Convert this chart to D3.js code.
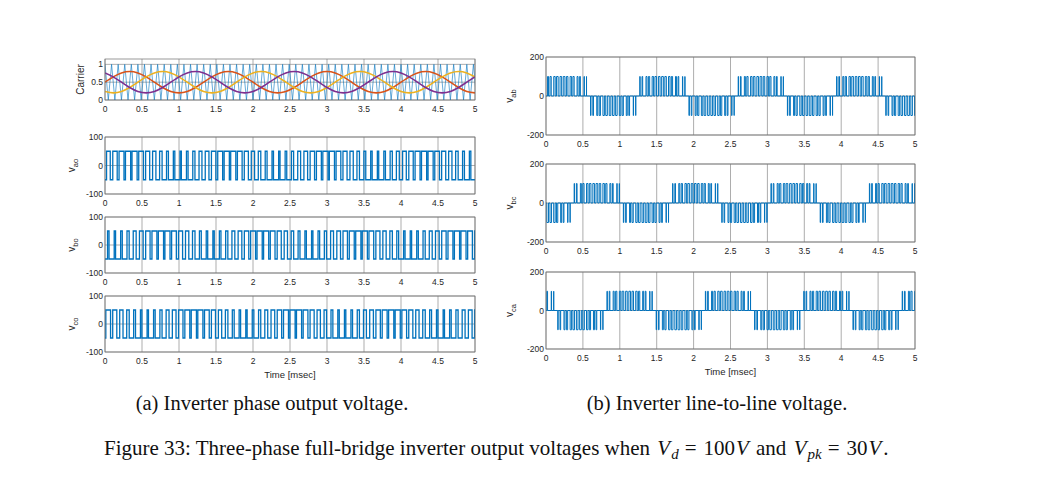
<!DOCTYPE html>
<html>
<head>
<meta charset="utf-8">
<script src="https://cdn.jsdelivr.net/npm/d3@7"></script>
<style>
  body { margin: 0; background: #fff; }
  text { font-family: "Liberation Sans", Arial, sans-serif; }
  .cap { font-family: "Liberation Serif", "Times New Roman", serif; }
</style>
</head>
<body>
<svg id="fig" width="1040" height="494"></svg>
<script>
// ---- data ----
var timeTicks = [0, 0.5, 1, 1.5, 2, 2.5, 3, 3.5, 4, 4.5, 5];
var timeTickLabels = ["0", "0.5", "1", "1.5", "2", "2.5", "3", "3.5", "4", "4.5", "5"];
var carrierTicks = [0, 0.5, 1];
var phaseTicks = [-100, 0, 100];
var lineTicks = [-200, 0, 200];

// reference (modulating) signals, sampled every 1/9 ms (30 deg)
var refTimes = [0, 0.111, 0.222, 0.333, 0.444, 0.556, 0.667, 0.778, 0.889, 1,
    1.111, 1.222, 1.333, 1.444, 1.556, 1.667, 1.778, 1.889, 2,
    2.111, 2.222, 2.333, 2.444, 2.556, 2.667, 2.778, 2.889, 3,
    3.111, 3.222, 3.333, 3.444, 3.556, 3.667, 3.778, 3.889, 4,
    4.111, 4.222, 4.333, 4.444, 4.556, 4.667, 4.778, 4.889, 5];
var refA = [0.5, 0.65, 0.76, 0.8, 0.76, 0.65, 0.5, 0.35, 0.24, 0.2, 0.24, 0.35,
    0.5, 0.65, 0.76, 0.8, 0.76, 0.65, 0.5, 0.35, 0.24, 0.2, 0.24, 0.35,
    0.5, 0.65, 0.76, 0.8, 0.76, 0.65, 0.5, 0.35, 0.24, 0.2, 0.24, 0.35,
    0.5, 0.65, 0.76, 0.8, 0.76, 0.65, 0.5, 0.35, 0.24, 0.2];
var refB = [0.24, 0.2, 0.24, 0.35, 0.5, 0.65, 0.76, 0.8, 0.76, 0.65, 0.5, 0.35,
    0.24, 0.2, 0.24, 0.35, 0.5, 0.65, 0.76, 0.8, 0.76, 0.65, 0.5, 0.35,
    0.24, 0.2, 0.24, 0.35, 0.5, 0.65, 0.76, 0.8, 0.76, 0.65, 0.5, 0.35,
    0.24, 0.2, 0.24, 0.35, 0.5, 0.65, 0.76, 0.8, 0.76, 0.65];
var refC = [0.76, 0.65, 0.5, 0.35, 0.24, 0.2, 0.24, 0.35, 0.5, 0.65, 0.76, 0.8,
    0.76, 0.65, 0.5, 0.35, 0.24, 0.2, 0.24, 0.35, 0.5, 0.65, 0.76, 0.8,
    0.76, 0.65, 0.5, 0.35, 0.24, 0.2, 0.24, 0.35, 0.5, 0.65, 0.76, 0.8,
    0.76, 0.65, 0.5, 0.35, 0.24, 0.2, 0.24, 0.35, 0.5, 0.65];

// triangular carrier: period in ms, levels at alternate vertices (starts at the peak)
var carrierPeriod = 0.0889;
var carrierLevels = [1, 0];
// leg output levels (Vd = 100 V)
var legLevels = [-50, 50];

var refColors = ["#D95319", "#EDB120", "#7E2F8E"];
var blue = "#0072BD";

// ---- build tables ----
var carrierTimes = d3.range(0, 5 + carrierPeriod, carrierPeriod / 2);
var carrierPts = carrierTimes.map(function(t, i) { return [t, carrierLevels[i % 2]]; });
var carrierScale = d3.scaleLinear().domain(carrierTimes).range(carrierPts.map(function(d) { return d[1]; }));

var refs = [refA, refB, refC].map(function(r) {
    return d3.scaleLinear().domain(refTimes).range(r);
});

var grid = d3.range(0, 5.00001, 0.0002);
var legs = refs.map(function(rs) {
    return grid.map(function(t) {
        return rs(t) > carrierScale(t) ? legLevels[1] : legLevels[0];
    });
});
var lineVals = [[0, 1], [1, 2], [2, 0]].map(function(p) {
    return grid.map(function(t, i) { return legs[p[0]][i] - legs[p[1]][i]; });
});

function toSteps(vals) {
    var pts = [[grid[0], vals[0]]];
    for (var i = 1; i < vals.length; i++) {
        if (vals[i] !== vals[i - 1]) pts.push([grid[i], vals[i]]);
    }
    pts.push([5, vals[vals.length - 1]]);
    return pts;
}

// ---- drawing ----
var svg = d3.select("#fig");

function panel(cfg) {
    var x = d3.scaleLinear().domain([0, 5]).range([cfg.x0, cfg.x1]);
    var y = d3.scaleLinear().domain(cfg.domain).range([cfg.y1, cfg.y0]);
    var g = svg.append("g");
    var id = "clip" + cfg.id;
    svg.append("clipPath").attr("id", id).append("rect")
        .attr("x", cfg.x0).attr("y", cfg.y0)
        .attr("width", cfg.x1 - cfg.x0).attr("height", cfg.y1 - cfg.y0);

    // grid
    g.selectAll(".gx").data(timeTicks).enter().append("line")
        .attr("x1", function(d) { return x(d); }).attr("x2", function(d) { return x(d); })
        .attr("y1", cfg.y0).attr("y2", cfg.y1)
        .attr("stroke", "#8a8a8a").attr("stroke-width", 0.7);
    g.selectAll(".gy").data(cfg.ticks).enter().append("line")
        .attr("x1", cfg.x0).attr("x2", cfg.x1)
        .attr("y1", function(d) { return y(d); }).attr("y2", function(d) { return y(d); })
        .attr("stroke", "#8a8a8a").attr("stroke-width", 0.7);

    var plot = g.append("g").attr("clip-path", "url(#" + id + ")");
    cfg.draw(plot, x, y);

    // box
    g.append("rect").attr("x", cfg.x0).attr("y", cfg.y0)
        .attr("width", cfg.x1 - cfg.x0).attr("height", cfg.y1 - cfg.y0)
        .attr("fill", "none").attr("stroke", "#6e6e6e").attr("stroke-width", 0.7);

    // tick labels
    g.selectAll(".tx").data(timeTicks).enter().append("text")
        .attr("x", function(d) { return x(d); }).attr("y", cfg.y1 + 11.5)
        .attr("text-anchor", "middle").attr("font-size", 8.5).attr("fill", "#262626")
        .text(function(d, i) { return timeTickLabels[i]; });
    g.selectAll(".ty").data(cfg.ticks).enter().append("text")
        .attr("x", cfg.x0 - 2).attr("y", function(d) { return y(d) + 3; })
        .attr("text-anchor", "end").attr("font-size", 8.5).attr("fill", "#262626")
        .text(function(d) { return d; });

    // y label
    var lab = g.append("text")
        .attr("transform", "translate(" + cfg.labelX + "," + ((cfg.y0 + cfg.y1) / 2) + ") rotate(-90)")
        .attr("text-anchor", "middle").attr("font-size", 10).attr("fill", "#262626");
    if (cfg.sub) {
        lab.append("tspan").text("v");
        lab.append("tspan").attr("dy", 3).attr("font-size", 7.5).text(cfg.sub);
    } else {
        lab.text(cfg.label);
    }
    if (cfg.xlabel) {
        g.append("text").attr("x", (cfg.x0 + cfg.x1) / 2).attr("y", cfg.y1 + 26)
            .attr("text-anchor", "middle").attr("font-size", 9.5).attr("fill", "#262626")
            .text("Time [msec]");
    }
}

var stepLine = function(x, y) {
    return d3.line().x(function(d) { return x(d[0]); }).y(function(d) { return y(d[1]); })
        .curve(d3.curveStepAfter);
};

// carrier + references
panel({
    id: "c", x0: 105, x1: 475, y0: 59, y1: 100, domain: [0, 1.15], ticks: carrierTicks,
    label: "Carrier", labelX: 84,
    draw: function(p, x, y) {
        p.append("path").datum(carrierPts)
            .attr("d", d3.line().x(function(d) { return x(d[0]); }).y(function(d) { return y(d[1]); }))
            .attr("fill", "none").attr("stroke", blue).attr("stroke-width", 0.6);
        [refA, refB, refC].forEach(function(r, k) {
            p.append("path").datum(r)
                .attr("d", d3.line().x(function(d, i) { return x(refTimes[i]); }).y(function(d) { return y(d); })
                    .curve(d3.curveNatural))
                .attr("fill", "none").attr("stroke", refColors[k]).attr("stroke-width", 1.6);
        });
    }
});

var leftTops = [[137, 194], [217, 273], [296, 352]];
var legSubs = ["ao", "bo", "co"];
legs.forEach(function(v, k) {
    panel({
        id: "l" + k, x0: 105, x1: 475, y0: leftTops[k][0], y1: leftTops[k][1],
        domain: [-100, 100], ticks: phaseTicks, sub: legSubs[k], labelX: 75,
        xlabel: k === 2,
        draw: function(p, x, y) {
            p.append("path").datum(toSteps(v)).attr("d", stepLine(x, y))
                .attr("fill", "none").attr("stroke", blue).attr("stroke-width", 1.3);
        }
    });
});

var rightTops = [[57, 135], [164, 242], [272, 349]];
var lineSubs = ["ab", "bc", "ca"];
lineVals.forEach(function(v, k) {
    panel({
        id: "r" + k, x0: 546, x1: 915, y0: rightTops[k][0], y1: rightTops[k][1],
        domain: [-200, 200], ticks: lineTicks, sub: lineSubs[k], labelX: 513,
        xlabel: k === 2,
        draw: function(p, x, y) {
            p.append("path").datum(toSteps(v)).attr("d", stepLine(x, y))
                .attr("fill", "none").attr("stroke", blue).attr("stroke-width", 1.0);
        }
    });
});

// captions
svg.append("text").attr("class", "cap").attr("x", 272).attr("y", 410)
    .attr("text-anchor", "middle").attr("font-size", 20.5).attr("fill", "#111")
    .text("(a) Inverter phase output voltage.");
svg.append("text").attr("class", "cap").attr("x", 717).attr("y", 410)
    .attr("text-anchor", "middle").attr("font-size", 20.5).attr("fill", "#111")
    .text("(b) Inverter line-to-line voltage.");

var fc = svg.append("text").attr("class", "cap").attr("x", 104).attr("y", 455)
    .attr("font-size", 21).attr("fill", "#111");
fc.append("tspan").text("Figure 33: Three-phase full-bridge inverter output voltages when ");
fc.append("tspan").attr("font-style", "italic").attr("dx", 2).text("V");
fc.append("tspan").attr("font-style", "italic").attr("font-size", 15).attr("dy", 4).attr("dx", 1).text("d");
fc.append("tspan").attr("dy", -4).attr("dx", 6).text("=");
fc.append("tspan").attr("dx", 7).text("100");
fc.append("tspan").attr("font-style", "italic").attr("dx", 1).text("V");
fc.append("tspan").attr("dx", 2).text(" and ");
fc.append("tspan").attr("font-style", "italic").attr("dx", 2).text("V");
fc.append("tspan").attr("font-style", "italic").attr("font-size", 15).attr("dy", 4).attr("dx", 1).text("pk");
fc.append("tspan").attr("dy", -4).attr("dx", 6).text("=");
fc.append("tspan").attr("dx", 7).text("30");
fc.append("tspan").attr("font-style", "italic").attr("dx", 1).text("V");
fc.append("tspan").attr("dx", 2).text(".");
</script>
</body>
</html>
